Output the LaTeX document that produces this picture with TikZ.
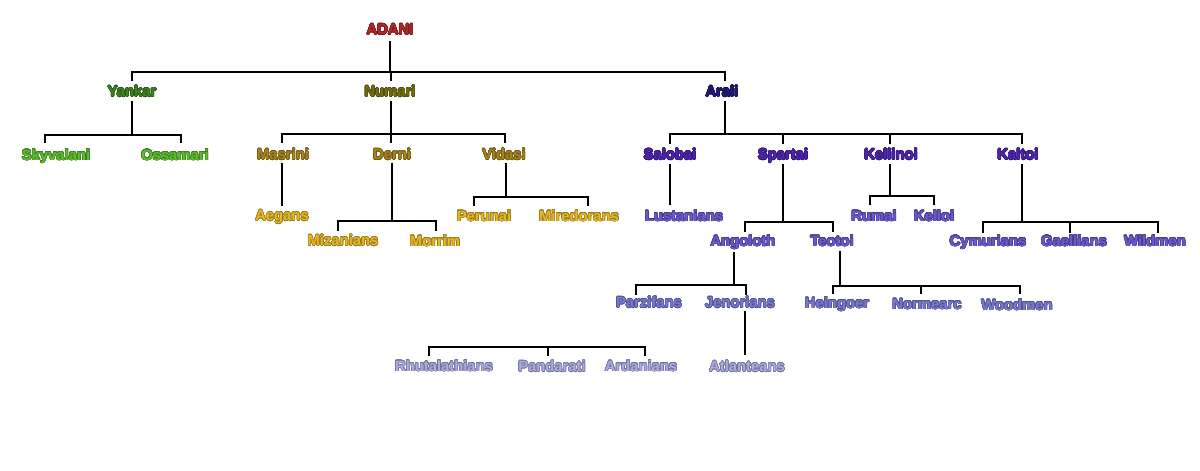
\documentclass[tikz,border=0pt]{standalone}
\usepackage{fontspec}
\setmainfont{Liberation Sans}
\usepackage[copies]{contour}
\contourlength{0.55pt}
\contournumber{24}
\definecolor{adaniC}{HTML}{B02A2A}
\definecolor{yankarC}{HTML}{3E8420}
\definecolor{skyC}{HTML}{5EBE30}
\definecolor{numariC}{HTML}{747012}
\definecolor{masriniC}{HTML}{A8841E}
\definecolor{aegansC}{HTML}{E6B828}
\definecolor{araliC}{HTML}{22187A}
\definecolor{salobaiC}{HTML}{5024B2}
\definecolor{lustC}{HTML}{6E5AD0}
\definecolor{parzC}{HTML}{7A7AD4}
\definecolor{rhutC}{HTML}{ACACE2}
\newcommand\lbl[2]{\contour{#1!68!black}{\textcolor{#1}{#2}}}
\tikzset{
  tx/.style={inner sep=0pt, anchor=base, font=\bfseries\fontsize{14.8}{18}\selectfont},
  conn/.style={draw=black, line width=2.8pt, line cap=rect, line join=miter}
}
\begin{document}
\begin{tikzpicture}[x=1pt,y=-1pt]
\useasboundingbox (0,0) rectangle (1200,471);
\fill[white] (0,0) rectangle (1200,471);
% nodes
\node[tx] (ADANI) at (390,34.5) {\lbl{adaniC}{ADANI}};
\node[tx] (Yankar) at (132,96.5) {\lbl{yankarC}{Yankar}};
\node[tx] (Numari) at (390,96.5) {\lbl{numariC}{Numari}};
\node[tx] (Arali) at (722,96.5) {\lbl{araliC}{Arali}};
\node[tx] (Skyvalani) at (56,160) {\lbl{skyC}{Skyvalani}};
\node[tx] (Ossamari) at (175,160) {\lbl{skyC}{Ossamari}};
\node[tx] (Masrini) at (283,159.5) {\lbl{masriniC}{Masrini}};
\node[tx] (Derni) at (392,159.5) {\lbl{masriniC}{Derni}};
\node[tx] (Vidasi) at (504,159.5) {\lbl{masriniC}{Vidasi}};
\node[tx] (Salobai) at (670,159.5) {\lbl{salobaiC}{Salobai}};
\node[tx] (Spartai) at (783,159.5) {\lbl{salobaiC}{Spartai}};
\node[tx] (Kellinoi) at (891,159.5) {\lbl{salobaiC}{Kellinoi}};
\node[tx] (Kaltoi) at (1018,159.5) {\lbl{salobaiC}{Kaltoi}};
\node[tx] (Aegans) at (282,220.5) {\lbl{aegansC}{Aegans}};
\node[tx] (Perunai) at (484,221) {\lbl{aegansC}{Perunai}};
\node[tx] (Miredorans) at (579,221) {\lbl{aegansC}{Miredorans}};
\node[tx] (Lustanians) at (684,221) {\lbl{lustC}{Lustanians}};
\node[tx] (Rumai) at (874,221) {\lbl{lustC}{Rumai}};
\node[tx] (Kelloi) at (934,221) {\lbl{lustC}{Kelloi}};
\node[tx] (Mizanians) at (343,245.5) {\lbl{aegansC}{Mizanians}};
\node[tx] (Morrim) at (435,246) {\lbl{aegansC}{Morrim}};
\node[tx] (Angoloth) at (743,246) {\lbl{lustC}{Angoloth}};
\node[tx] (Teotoi) at (832,246) {\lbl{lustC}{Teotoi}};
\node[tx] (Cymurians) at (988,246) {\lbl{lustC}{Cymurians}};
\node[tx] (Gaellians) at (1074,246) {\lbl{lustC}{Gaellians}};
\node[tx] (Wildmen) at (1155,246) {\lbl{lustC}{Wildmen}};
\node[tx] (Parzifans) at (649,307.5) {\lbl{parzC}{Parzifans}};
\node[tx] (Jenorians) at (740,307.5) {\lbl{parzC}{Jenorians}};
\node[tx] (Heingoer) at (837,308) {\lbl{parzC}{Heingoer}};
\node[tx] (Normearc) at (927,309) {\lbl{parzC}{Normearc}};
\node[tx] (Woodmen) at (1017,310) {\lbl{parzC}{Woodmen}};
\node[tx] (Rhutalathians) at (444,371) {\lbl{rhutC}{Rhutalathians}};
\node[tx] (Pandarati) at (552,371.5) {\lbl{rhutC}{Pandarati}};
\node[tx] (Ardanians) at (641,371) {\lbl{rhutC}{Ardanians}};
\node[tx] (Atlanteans) at (747,371.5) {\lbl{rhutC}{Atlanteans}};
% connectors
% ADANI
\draw[conn] (390,42) -- (390,72);
\draw[conn] (132,80) -- (132,72) -- (725,72) -- (725,80);
\draw[conn] (391,72) -- (391,80);
% Yankar
\draw[conn] (132,102) -- (132,135);
\draw[conn] (45,142) -- (45,135) -- (181,135) -- (181,142);
% Numari
\draw[conn] (391,102) -- (391,142);
\draw[conn] (282,142) -- (282,134) -- (505,134) -- (505,142);
% Arali
\draw[conn] (725,102) -- (725,134);
\draw[conn] (670,143) -- (670,134) -- (1022,134) -- (1022,143);
\draw[conn] (783,134) -- (783,143);
\draw[conn] (890,134) -- (890,143);
% Masrini
\draw[conn] (282,164) -- (282,205);
% Salobai
\draw[conn] (670,165) -- (670,204);
% Derni
\draw[conn] (392,164) -- (392,221);
\draw[conn] (338,230) -- (338,221) -- (436,221) -- (436,230);
% Vidasi
\draw[conn] (506,164) -- (506,197);
\draw[conn] (474,205) -- (474,197) -- (588,197) -- (588,205);
% Spartai
\draw[conn] (783,165) -- (783,222);
\draw[conn] (745,231) -- (745,222) -- (833,222) -- (833,231);
% Kellinoi
\draw[conn] (890,165) -- (890,196);
\draw[conn] (870,204) -- (870,196) -- (934,196) -- (934,204);
% Kaltoi
\draw[conn] (1022,165) -- (1022,222);
\draw[conn] (983,232) -- (983,222) -- (1158,222) -- (1158,232);
\draw[conn] (1070,222) -- (1070,232);
% Angoloth
\draw[conn] (734,253) -- (734,285);
\draw[conn] (636,294) -- (636,285) -- (746,285) -- (746,294);
% Teotoi
\draw[conn] (840,252) -- (840,286);
\draw[conn] (833,293) -- (833,286) -- (1020,286) -- (1020,293);
\draw[conn] (921,286) -- (921,293);
% Jenorians
\draw[conn] (745,312) -- (745,354);
% floating bracket
\draw[conn] (429,355) -- (429,347) -- (645,347) -- (645,355);
\draw[conn] (548,347) -- (548,355);
\end{tikzpicture}
\end{document}
